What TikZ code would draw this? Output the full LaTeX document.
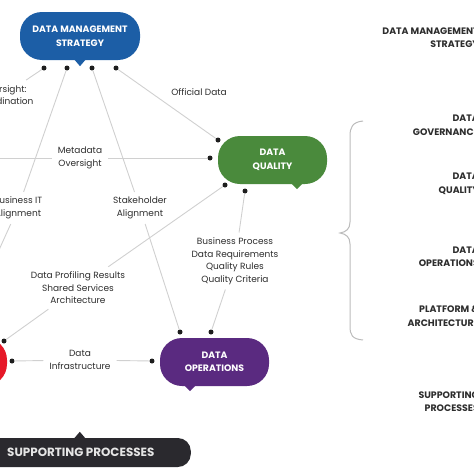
\documentclass[tikz,border=0pt]{standalone}
\usepackage{fontspec}
\setmainfont{Poppins}
\usetikzlibrary{calc}
\definecolor{dmsblue}{RGB}{28,94,166}
\definecolor{dqgreen}{RGB}{74,138,60}
\definecolor{dopurple}{RGB}{90,42,128}
\definecolor{pared}{RGB}{230,24,40}
\definecolor{spdark}{RGB}{42,41,46}
\definecolor{linegray}{RGB}{208,208,208}
\definecolor{dotblack}{RGB}{30,30,30}
\definecolor{txtgray}{RGB}{45,45,45}
\begin{document}
\begin{tikzpicture}[x=1pt,y=-1pt,
  bubble/.style={rectangle, rounded corners=22pt, minimum width=109pt, minimum height=48pt, text=white, align=center, font=\bfseries\fontsize{9.3}{13.5}\selectfont, inner sep=0pt},
  dot/.style={circle, fill=dotblack, inner sep=0pt, minimum size=5pt},
  lbl/.style={align=center, text=txtgray, font=\fontsize{9}{12.5}\selectfont, inner xsep=6pt, inner ysep=5pt},
  conn/.style={draw=linegray, line width=0.9pt},
  side/.style={align=right, anchor=east, text=txtgray, inner sep=0pt, font=\bfseries\fontsize{9.4}{13.5}\selectfont},
  spbox/.style={rectangle, rounded corners=13pt, fill=spdark, text=white!90!black, minimum height=29pt, font=\bfseries\fontsize{11.9}{13}\selectfont}
]
\useasboundingbox (0,0) rectangle (474,474);
\clip (0,0) rectangle (474,474);

% main bubbles
\node[bubble, fill=dmsblue, minimum width=120pt] (dms) at (80,36) {DATA MANAGEMENT\\STRATEGY};
\fill[dmsblue] ($(dms.south)+(-6,-1)$) -- ($(dms.south)+(0,6)$) -- ($(dms.south)+(6,-1)$) -- cycle;
\node[bubble, fill=dqgreen] (dq) at (272.5,160) {DATA\\QUALITY};
\fill[dqgreen] ($(dq.south)+(18.5,-1)$) -- ($(dq.south)+(24.5,5)$) -- ($(dq.south)+(30.5,-1)$) -- cycle;
\node[bubble, fill=dopurple] (do) at (214.5,362) {DATA\\OPERATIONS};
\fill[dopurple] ($(do.south)+(-30.5,-1)$) -- ($(do.south)+(-24.5,5)$) -- ($(do.south)+(-18.5,-1)$) -- cycle;
\node[bubble, fill=pared] (pa) at (-47.5,362) {};
\node[spbox, minimum width=220pt, anchor=east] (sp) at (191,452.5) {SUPPORTING PROCESSES};
\fill[spdark] ($(sp.north)+(-7,1)$) -- ($(sp.north)+(-1,-6)$) -- ($(sp.north)+(5,1)$) -- cycle;

% dots
\node[dot] (d1) at (44,68) {};
\node[dot] (d2) at (67,68) {};
\node[dot] (d3) at (92,68) {};
\node[dot] (d4) at (116,68) {};
\node[dot] (q1) at (218,140) {};
\node[dot] (q2) at (210,158) {};
\node[dot] (q3) at (225,185) {};
\node[dot] (q4) at (245,191) {};
\node[dot] (o1) at (180,332) {};
\node[dot] (o2) at (211,332) {};
\node[dot] (o3) at (152,361) {};
\node[dot] (p1) at (4,341) {};
\node[dot] (p2) at (12,361) {};
\coordinate (patop) at (-40,336);
\coordinate (gov) at (-30,158);

% labels
\node[lbl] (ovs) at (4,95) {Oversight:\\Coordination};
\node[lbl] (bit) at (18,208) {Business IT\\Alignment};
\node[lbl] (stk) at (140,208) {Stakeholder\\Alignment};
\node[lbl] (off) at (199,92) {Official Data};
\node[lbl] (meta) at (80,158) {Metadata\\Oversight};
\node[lbl] (prof) at (78,288) {Data Profiling Results\\Shared Services\\Architecture};
\node[lbl] (bpr) at (235,261) {Business Process\\Data Requirements\\Quality Rules\\Quality Criteria};
\node[lbl] (infra) at (80,360) {Data\\Infrastructure};

% connectors
\draw[conn] (d1) -- (ovs);
\draw[conn] (d2) -- (bit);
\draw[conn] (bit) -- (patop);
\draw[conn] (d3) -- (stk);
\draw[conn] (stk) -- (o1);
\draw[conn] (d4) -- (q1);
\draw[conn] (gov) -- (meta);
\draw[conn] (meta) -- (q2);
\draw[conn] (q3) -- (prof);
\draw[conn] (prof) -- (p1);
\draw[conn] (q4) -- (bpr);
\draw[conn] (bpr) -- (o2);
\draw[conn] (p2) -- (infra);
\draw[conn] (infra) -- (o3);

% right-hand list
\node[side] (s1) at (479,37.5) {DATA MANAGEMENT\\STRATEGY};
\node[side] (s2) at (479,125) {DATA\\GOVERNANCE};
\node[side] (s3) at (479,184) {DATA\\QUALITY};
\node[side] (s4) at (479,256.5) {DATA\\OPERATIONS};
\node[side] (s5) at (479,316) {PLATFORM \&\\ARCHITECTURE};
\node[side] (s6) at (479,401.5) {SUPPORTING\\PROCESSES};

% brace
\draw[draw=linegray!90!black, line width=1pt]
  (363,121) .. controls (352,122) and (350,128) .. (350,136) -- (350,222)
  .. controls (350,229) and (346,232) .. (340,233)
  .. controls (346,234) and (350,237) .. (350,244) -- (350,326)
  .. controls (350,335) and (352,339) .. (363,340);
\end{tikzpicture}
\end{document}
